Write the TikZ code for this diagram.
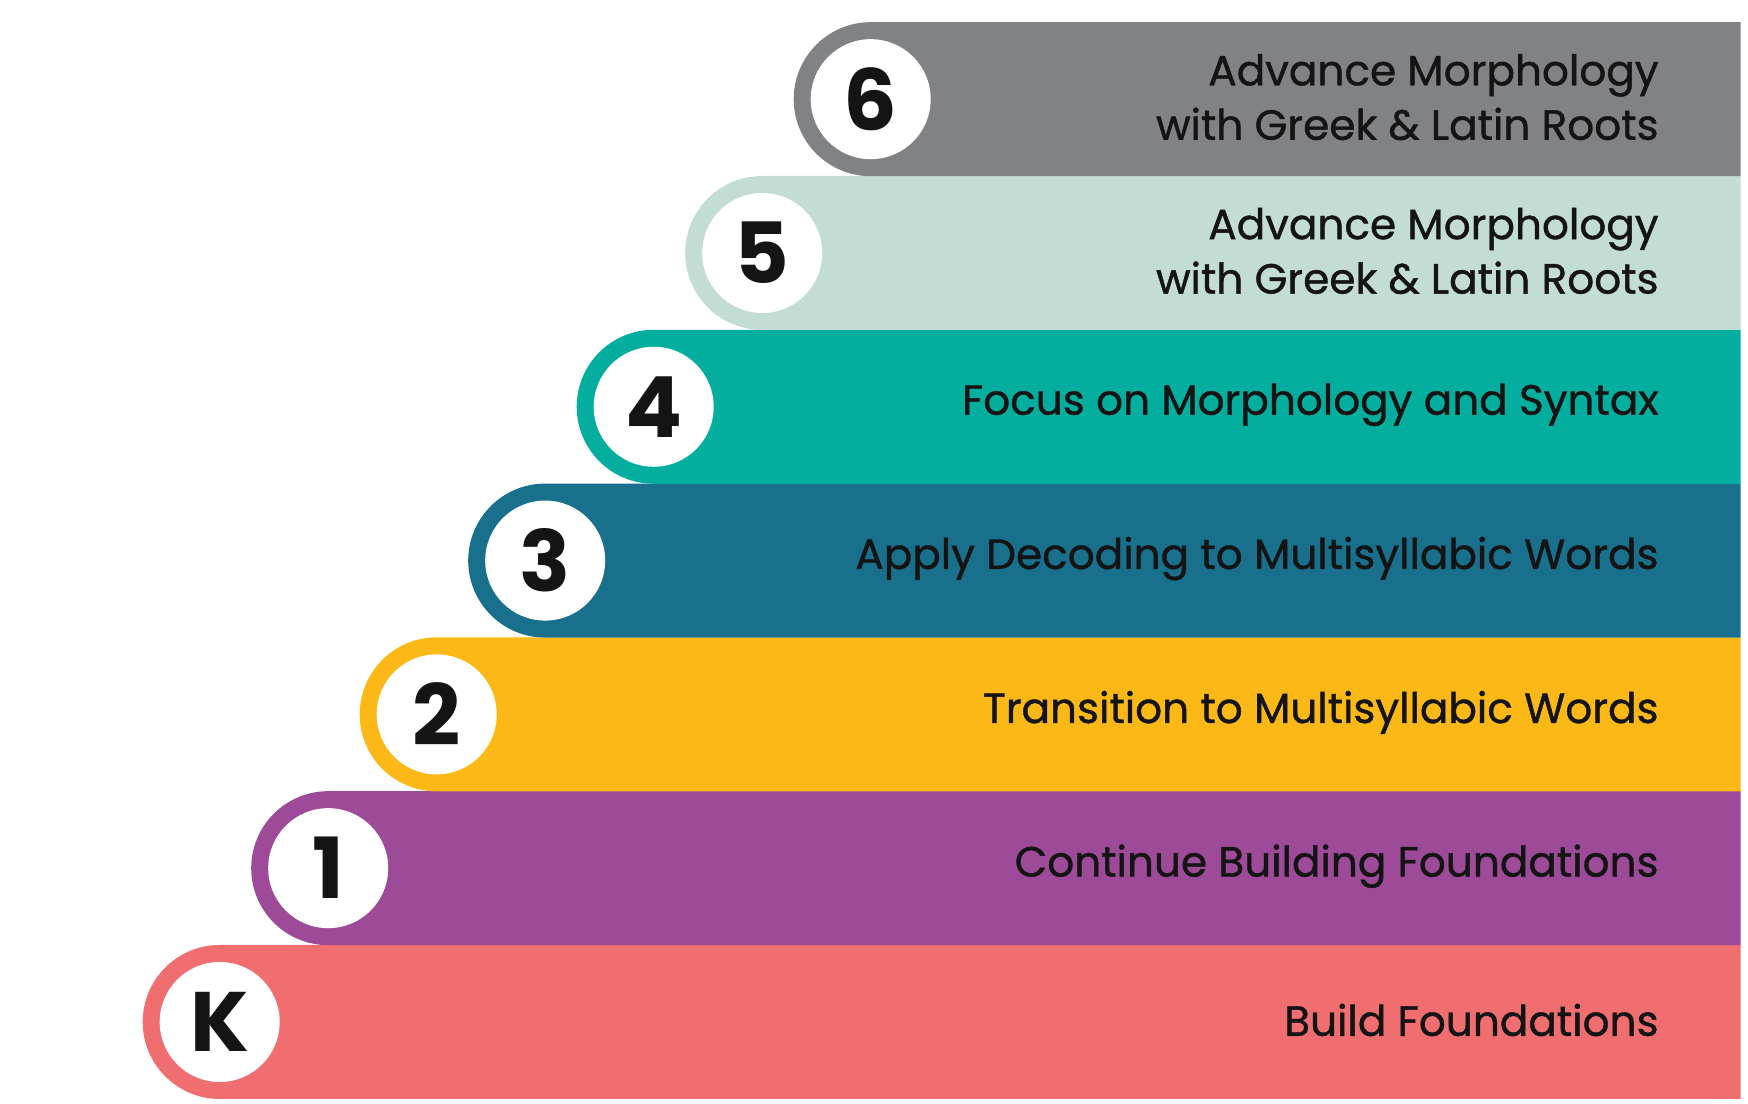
\documentclass[tikz,border=0pt]{standalone}
\usepackage{fontspec}
\setmainfont{Poppins}
\newfontfamily\tagfont[FakeBold=1.0]{Poppins}
\usepackage{tikz}
\usetikzlibrary{positioning,shapes.misc}
\definecolor{ink}{RGB}{20,20,20}
\definecolor{gradeK}{RGB}{241,110,112}
\definecolor{gradeA}{RGB}{157,74,152}
\definecolor{gradeB}{RGB}{251,184,23}
\definecolor{gradeC}{RGB}{25,112,141}
\definecolor{gradeD}{RGB}{4,174,158}
\definecolor{gradeE}{RGB}{195,221,212}
\definecolor{gradeF}{RGB}{128,130,133}
\tikzset{
  bar/.style={rounded rectangle,rounded rectangle right arc=none,
    minimum height=1.54cm,inner sep=0pt,anchor=west},
  disc/.style={circle,fill=white,minimum size=12mm,inner sep=0pt,
    font=\fontsize{24}{24}\selectfont\bfseries,text=ink},
  tag/.style={anchor=east,align=right,font=\tagfont\fontsize{12}{15.5}\selectfont,text=ink},
}

\begin{document}
\begin{tikzpicture}
  \useasboundingbox (0,0) rectangle (17.48,11.04);
  % steps, from K up to 6
  \node[bar,fill=gradeK,minimum width=15.98cm] (barK) at (1.42,0.82) {};
  \node[bar,fill=gradeA,minimum width=14.895cm] (bar1) at (2.505,2.358) {};
  \node[bar,fill=gradeB,minimum width=13.81cm] (bar2) at (3.59,3.896) {};
  \node[bar,fill=gradeC,minimum width=12.725cm] (bar3) at (4.675,5.434) {};
  \node[bar,fill=gradeD,minimum width=11.64cm] (bar4) at (5.76,6.972) {};
  \node[bar,fill=gradeE,minimum width=10.555cm] (bar5) at (6.845,8.51) {};
  \node[bar,fill=gradeF,minimum width=9.47cm] (bar6) at (7.93,10.048) {};
  % number discs
  \node[disc,right=0.17cm of barK.west] (numK) {K};
  \node[disc,right=0.17cm of bar1.west] (num1) {1};
  \node[disc,right=0.17cm of bar2.west] (num2) {2};
  \node[disc,right=0.17cm of bar3.west] (num3) {3};
  \node[disc,right=0.17cm of bar4.west] (num4) {4};
  \node[disc,right=0.17cm of bar5.west] (num5) {5};
  \node[disc,right=0.17cm of bar6.west] (num6) {6};
  % labels
  \node[tag] (txtK) at (16.71,0.84) {Build Foundations};
  \node[tag] (txt1) at (16.71,2.378) {Continue Building Foundations};
  \node[tag] (txt2) at (16.71,3.916) {Transition to Multisyllabic Words};
  \node[tag] (txt3) at (16.71,5.454) {Apply Decoding to Multisyllabic Words};
  \node[tag] (txt4) at (16.71,6.992) {Focus on Morphology and Syntax};
  \node[tag] (txt5) at (16.71,8.53) {Advance Morphology\\with Greek \& Latin Roots};
  \node[tag] (txt6) at (16.71,10.068) {Advance Morphology\\with Greek \& Latin Roots};
\end{tikzpicture}
\end{document}
